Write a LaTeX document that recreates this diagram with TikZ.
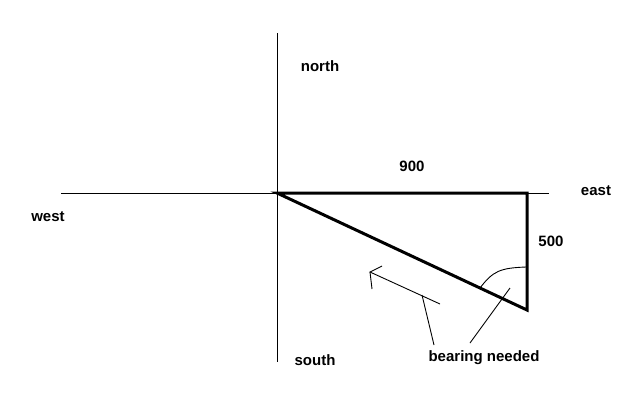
\documentclass[tikz,border=0pt]{standalone}
\usepackage{fontspec}
\setmainfont{Liberation Sans}
\begin{document}
\begin{tikzpicture}[x=1pt,y=-1pt,
  lbl/.style={font=\bfseries\fontsize{15}{17}\selectfont, inner sep=0pt},
  axis/.style={line width=1pt},
  thin/.style={line width=0.9pt},
  thick/.style={line width=3pt}]
\useasboundingbox[fill=white] (0,0) rectangle (640,400);
% axes
\coordinate (wEnd) at (61,193);
\coordinate (eEnd) at (549,193);
\coordinate (nEnd) at (277,33);
\coordinate (sEnd) at (277,362);
\draw[axis] (wEnd) -- (eEnd);
\draw[axis] (nEnd) -- (sEnd);
% triangle
\coordinate (O) at (277,193);
\coordinate (A) at (527,193);
\coordinate (B) at (527,310);
\draw[thick, line join=miter] (O) -- (A) -- (B) -- cycle;
% angle arc
\coordinate (a1) at (526,267);
\coordinate (a2) at (480,288);
\draw[thin] (a1) .. controls (500,268) and (493,271) .. (a2);
% arrow
\coordinate (t0) at (440,304);
\coordinate (tip) at (370,272);
\coordinate (b1) at (382,266);
\coordinate (b2) at (372,289);
\draw[thin] (t0) -- (tip) -- (b1);
\draw[thin] (tip) -- (b2);
% labels
\node[lbl] (north) at (320,66) {north};
\node[lbl] (n900) at (412,166) {900};
\node[lbl] (east) at (596,191) {east};
\node[lbl] (west) at (48,217) {west};
\node[lbl] (n500) at (551,241) {500};
\node[lbl] (south) at (315,360) {south};
\node[lbl] (bear) at (484,358) {bearing needed};
% pointers
\coordinate (p1) at (422,295);
\coordinate (p1e) at (434,345);
\coordinate (p2) at (510,288);
\coordinate (p2e) at (470,343);
\draw[thin] (p1) -- (p1e);
\draw[thin] (p2) -- (p2e);
\end{tikzpicture}
\end{document}
